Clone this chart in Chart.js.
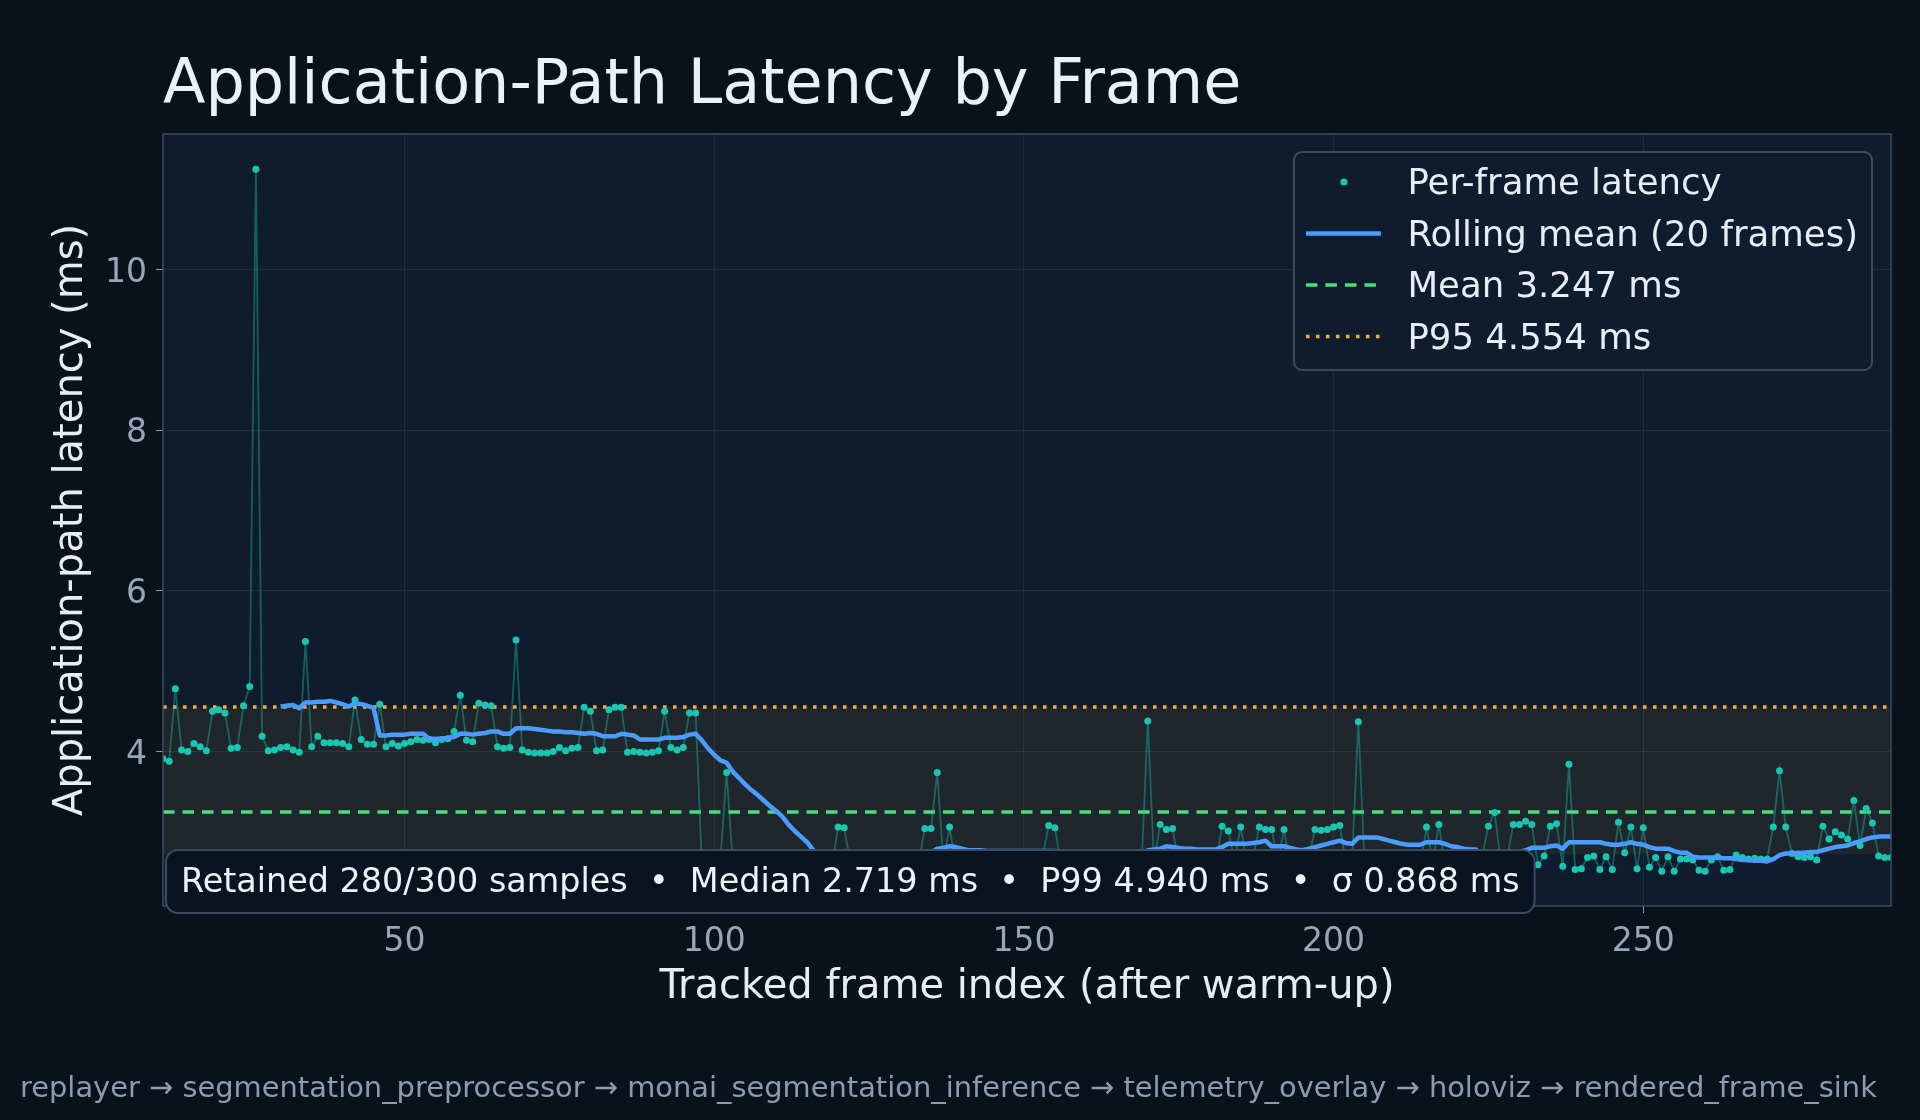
<!DOCTYPE html>
<html>
<head>
<meta charset="utf-8">
<title>Application-Path Latency by Frame</title>
<script src="https://cdn.jsdelivr.net/npm/chart.js@4.4.1/dist/chart.umd.min.js"></script>
<style>
  html, body { margin: 0; padding: 0; background: #09111b; }
  #wrap { width: 1920px; height: 1120px; }
</style>
</head>
<body>
<div id="wrap"><canvas id="latencyChart" width="1920" height="1120"></canvas></div>
<script>
// first retained frame (after warm-up)
const FIRST_FRAME = 11;

// per-frame latency in ms, frames 11..290
const latencyMs = [
  3.91, 3.88, 4.78, 4.02, 4.00, 4.10, 4.06, 4.01, 4.50, 4.52,
  4.48, 4.04, 4.05, 4.57, 4.81, 11.25, 4.19, 4.01, 4.02, 4.05,
  4.06, 4.02, 3.99, 5.37, 4.06, 4.19, 4.11, 4.11, 4.11, 4.10,
  4.06, 4.64, 4.15, 4.09, 4.09, 4.59, 4.06, 4.10, 4.07, 4.10,
  4.12, 4.15, 4.14, 4.15, 4.11, 4.15, 4.16, 4.25, 4.70, 4.14,
  4.12, 4.60, 4.58, 4.57, 4.06, 4.04, 4.05, 5.39, 4.02, 3.99,
  3.98, 3.98, 3.98, 4.00, 4.05, 4.01, 4.04, 4.05, 4.55, 4.50,
  4.01, 4.02, 4.52, 4.55, 4.55, 3.99, 4.00, 3.99, 3.98, 3.99,
  4.01, 4.50, 4.05, 4.02, 4.05, 4.48, 4.48, 2.58, 2.63, 2.55,
  2.66, 3.74, 2.60, 2.67, 2.56, 2.62, 2.69, 2.57, 2.64, 2.60,
  2.68, 2.55, 2.63, 2.66, 2.58, 2.70, 2.61, 2.65, 2.57, 3.06,
  3.05, 2.60, 2.66, 2.58, 2.63, 2.69, 2.56, 2.64, 2.61, 2.67,
  2.57, 2.65, 2.62, 3.04, 3.04, 3.74, 2.63, 3.06, 2.58, 2.66,
  2.61, 2.69, 2.56, 2.64, 2.60, 2.67, 2.58, 2.63, 2.66, 2.57,
  2.65, 2.61, 2.68, 3.08, 3.05, 2.59, 2.64, 2.56, 2.62, 2.67,
  2.58, 2.65, 2.60, 2.55, 2.63, 2.68, 2.59, 2.62, 2.57, 4.38,
  2.64, 3.09, 3.03, 3.04, 2.60, 2.66, 2.57, 2.63, 2.69, 2.58,
  2.62, 3.07, 3.01, 2.65, 3.06, 2.61, 2.67, 3.06, 3.03, 3.03,
  2.64, 3.03, 2.58, 2.66, 2.60, 2.68, 3.03, 3.02, 3.03, 3.06,
  3.08, 2.62, 2.67, 4.37, 2.59, 2.66, 2.61, 2.69, 2.57, 2.64,
  2.70, 2.60, 2.67, 2.56, 3.06, 2.63, 3.09, 2.58, 2.65, 2.61,
  2.68, 2.57, 2.64, 2.70, 3.07, 3.24, 2.62, 2.66, 3.09, 3.09,
  3.13, 3.09, 2.59, 2.70, 3.07, 3.10, 2.57, 3.84, 2.53, 2.54,
  2.68, 2.70, 2.53, 2.69, 2.53, 3.12, 2.74, 3.06, 2.54, 3.05,
  2.56, 2.68, 2.51, 2.69, 2.51, 2.66, 2.66, 2.65, 2.52, 2.51,
  2.65, 2.69, 2.52, 2.53, 2.71, 2.68, 2.66, 2.67, 2.66, 2.66,
  3.06, 3.76, 3.06, 2.73, 2.69, 2.68, 2.69, 2.65, 3.07, 2.91,
  3.00, 2.96, 2.91, 3.39, 2.83, 3.29, 3.11, 2.70, 2.68, 2.68
];

// 20-frame rolling mean in ms, frames 30..290
const ROLLING_START = 30;
const rollingMs = [
  4.56, 4.57, 4.58, 4.54, 4.61, 4.61, 4.62, 4.62, 4.63, 4.61,
  4.59, 4.56, 4.60, 4.59, 4.57, 4.54, 4.20, 4.20, 4.21, 4.21,
  4.21, 4.22, 4.22, 4.22, 4.16, 4.16, 4.16, 4.17, 4.18, 4.22,
  4.22, 4.21, 4.22, 4.23, 4.25, 4.25, 4.22, 4.22, 4.29, 4.29,
  4.29, 4.28, 4.27, 4.26, 4.25, 4.25, 4.24, 4.24, 4.23, 4.22,
  4.23, 4.22, 4.19, 4.19, 4.19, 4.22, 4.21, 4.20, 4.15, 4.15,
  4.15, 4.15, 4.17, 4.17, 4.17, 4.18, 4.21, 4.22, 4.14, 4.04,
  3.96, 3.89, 3.86, 3.75, 3.67, 3.59, 3.52, 3.46, 3.39, 3.32,
  3.26, 3.19, 3.09, 3.01, 2.94, 2.87, 2.77, 2.70, 2.70, 2.70,
  2.73, 2.76, 2.70, 2.70, 2.70, 2.70, 2.70, 2.70, 2.70, 2.71,
  2.71, 2.71, 2.71, 2.72, 2.72, 2.74, 2.79, 2.80, 2.82, 2.81,
  2.79, 2.77, 2.77, 2.77, 2.76, 2.76, 2.76, 2.76, 2.76, 2.76,
  2.76, 2.76, 2.76, 2.76, 2.76, 2.76, 2.71, 2.70, 2.69, 2.69,
  2.70, 2.69, 2.69, 2.68, 2.68, 2.68, 2.68, 2.69, 2.69, 2.69,
  2.77, 2.78, 2.79, 2.82, 2.81, 2.80, 2.79, 2.79, 2.78, 2.78,
  2.78, 2.78, 2.81, 2.85, 2.85, 2.85, 2.85, 2.86, 2.87, 2.89,
  2.82, 2.82, 2.82, 2.80, 2.78, 2.77, 2.79, 2.81, 2.83, 2.85,
  2.87, 2.89, 2.86, 2.85, 2.93, 2.93, 2.93, 2.93, 2.91, 2.89,
  2.87, 2.85, 2.84, 2.84, 2.84, 2.87, 2.87, 2.87, 2.85, 2.82,
  2.81, 2.79, 2.78, 2.78, 2.67, 2.69, 2.71, 2.71, 2.71, 2.73,
  2.75, 2.77, 2.80, 2.80, 2.80, 2.82, 2.83, 2.79, 2.87, 2.87,
  2.87, 2.87, 2.87, 2.87, 2.85, 2.84, 2.84, 2.85, 2.87, 2.85,
  2.84, 2.81, 2.79, 2.79, 2.79, 2.76, 2.74, 2.74, 2.69, 2.68,
  2.68, 2.68, 2.68, 2.67, 2.67, 2.66, 2.65, 2.65, 2.64, 2.64,
  2.63, 2.66, 2.71, 2.73, 2.73, 2.74, 2.74, 2.75, 2.75, 2.77,
  2.79, 2.81, 2.82, 2.83, 2.86, 2.88, 2.91, 2.93, 2.94, 2.94,
  2.94
];

// summary stats printed on the chart
const MEAN_MS = 3.247;
const MEDIAN_MS = 2.719;
const P95_MS = 4.554;
const P99_MS = 4.940;
const SIGMA_MS = 0.868;
const RETAINED = 280;
const TOTAL = 300;

// axis ticks and limits
const xTicks = [50, 100, 150, 200, 250];
const yTicks = [4, 6, 8, 10];
const Y_MIN = 2.076;
const Y_MAX = 11.69;

const pipeline = [
  "replayer", "segmentation_preprocessor", "monai_segmentation_inference",
  "telemetry_overlay", "holoviz", "rendered_frame_sink"
];

const FONT = "'DejaVu Sans', 'Liberation Sans', sans-serif";
const TEAL = "#19c6b1";
const BLUE = "#4a9dff";
const GREEN = "#4ade80";
const ORANGE = "#f4a93a";

// build point lists from the arrays
const framePoints = latencyMs.map((v, i) => ({ x: FIRST_FRAME + i, y: v }));
const rollingPoints = rollingMs.map((v, i) => ({ x: ROLLING_START + i, y: v }));
const xFirst = FIRST_FRAME;
const xLast = FIRST_FRAME + latencyMs.length - 1;

function roundRect(ctx, x, y, w, h, r) {
  ctx.beginPath();
  ctx.moveTo(x + r, y);
  ctx.lineTo(x + w - r, y);
  ctx.arcTo(x + w, y, x + w, y + r, r);
  ctx.lineTo(x + w, y + h - r);
  ctx.arcTo(x + w, y + h, x + w - r, y + h, r);
  ctx.lineTo(x + r, y + h);
  ctx.arcTo(x, y + h, x, y + h - r, r);
  ctx.lineTo(x, y + r);
  ctx.arcTo(x, y, x + r, y, r);
  ctx.closePath();
}

// backgrounds, spines, title, legend, stats box, footer
const decorPlugin = {
  id: "decor",
  beforeDraw(chart) {
    const { ctx, chartArea: a } = chart;
    ctx.save();
    ctx.fillStyle = "#09111b";
    ctx.fillRect(0, 0, chart.width, chart.height);
    ctx.fillStyle = "#0e1c2d";
    ctx.fillRect(a.left, a.top, a.right - a.left, a.bottom - a.top);
    ctx.restore();
  },
  afterDatasetsDraw(chart) {
    const { ctx, chartArea: a } = chart;
    ctx.save();
    ctx.strokeStyle = "#3b4e63";
    ctx.lineWidth = 1.5;
    ctx.strokeRect(a.left, a.top, a.right - a.left, a.bottom - a.top);
    ctx.restore();
  },
  afterDraw(chart) {
    const { ctx, chartArea: a } = chart;
    ctx.save();

    // title
    ctx.fillStyle = "#eaf1f8";
    ctx.font = "62px " + FONT;
    ctx.textAlign = "left";
    ctx.textBaseline = "alphabetic";
    ctx.fillText("Application-Path Latency by Frame", a.left, 103);

    // legend
    const ds = chart.data.datasets;
    const items = [ds[1], ds[0], ds[2], ds[3]];
    ctx.font = "35.5px " + FONT;
    const textW = Math.max(...items.map((d) => ctx.measureText(d.label).width));
    const lw = 113.5 + textW + 14;
    const lh = 218;
    const lx = a.right - 19 - lw;
    const ly = a.top + 18;
    roundRect(ctx, lx, ly, lw, lh, 8);
    ctx.fillStyle = "#0f1c2d";
    ctx.fill();
    ctx.strokeStyle = "#3b4b5f";
    ctx.lineWidth = 2;
    ctx.stroke();

    const rows = [33, 84.5, 136, 187.5];
    items.forEach((d, i) => {
      const cy = ly + rows[i];
      if (d.legendKind === "dot") {
        ctx.beginPath();
        ctx.arc(lx + 50, cy - 3, 3.6, 0, Math.PI * 2);
        ctx.fillStyle = d.pointBackgroundColor;
        ctx.fill();
      } else {
        ctx.beginPath();
        ctx.setLineDash(d.borderDash || []);
        ctx.lineCap = "butt";
        ctx.strokeStyle = d.borderColor;
        ctx.lineWidth = d.borderWidth;
        ctx.moveTo(lx + 12, cy - 3);
        ctx.lineTo(lx + 87, cy - 3);
        ctx.stroke();
        ctx.setLineDash([]);
      }
      ctx.fillStyle = "#e6edf5";
      ctx.textBaseline = "middle";
      ctx.fillText(d.label, lx + 113.5, cy);
    });

    // stats box
    ctx.font = "33.4px " + FONT;
    const stats =
      "Retained " + RETAINED + "/" + TOTAL + " samples  \u2022  Median " +
      MEDIAN_MS.toFixed(3) + " ms  \u2022  P99 " + P99_MS.toFixed(3) +
      " ms  \u2022  \u03c3 " + SIGMA_MS.toFixed(3) + " ms";
    const sw = ctx.measureText(stats).width;
    const bx = a.left + 3;
    const by = a.bottom - 56;
    roundRect(ctx, bx, by, sw + 30, 63, 12);
    ctx.fillStyle = "#0a1420";
    ctx.fill();
    ctx.strokeStyle = "#3b4b5f";
    ctx.lineWidth = 2;
    ctx.stroke();
    ctx.fillStyle = "#eef3f8";
    ctx.textBaseline = "alphabetic";
    ctx.fillText(stats, bx + 15, by + 42);

    // pipeline footer
    ctx.font = "28.9px " + FONT;
    ctx.fillStyle = "#8b9bb0";
    ctx.fillText(pipeline.join(" \u2192 "), 20, 1097);

    ctx.restore();
  }
};

const chart = new Chart(document.getElementById("latencyChart"), {
  type: "line",
  data: {
    datasets: [
      {
        label: "Rolling mean (20 frames)",
        data: rollingPoints,
        borderColor: BLUE,
        borderWidth: 4.5,
        borderJoinStyle: "round",
        pointRadius: 0,
        tension: 0,
        fill: false
      },
      {
        label: "Per-frame latency",
        legendKind: "dot",
        data: framePoints,
        showLine: true,
        borderColor: "rgba(25,198,177,0.4)",
        borderWidth: 1.8,
        pointRadius: 3.5,
        pointBorderWidth: 0,
        pointBackgroundColor: TEAL,
        tension: 0,
        fill: false
      },
      {
        label: "Mean " + MEAN_MS.toFixed(3) + " ms",
        data: [{ x: xFirst, y: MEAN_MS }, { x: xLast, y: MEAN_MS }],
        borderColor: GREEN,
        borderWidth: 3.5,
        borderDash: [11.5, 8],
        pointRadius: 0,
        fill: false
      },
      {
        label: "P95 " + P95_MS.toFixed(3) + " ms",
        data: [{ x: xFirst, y: P95_MS }, { x: xLast, y: P95_MS }],
        borderColor: ORANGE,
        borderWidth: 3.6,
        borderDash: [3.6, 6.4],
        pointRadius: 0,
        // shaded band between median and P95
        fill: { value: MEDIAN_MS },
        backgroundColor: "rgba(245,166,35,0.08)"
      }
    ]
  },
  options: {
    responsive: false,
    devicePixelRatio: 1,
    animation: false,
    layout: { padding: { top: 134, right: 29, bottom: 0, left: 0 } },
    plugins: {
      legend: { display: false },
      tooltip: { enabled: false },
      title: { display: false }
    },
    scales: {
      x: {
        type: "linear",
        min: xFirst,
        max: xLast,
        afterBuildTicks: (s) => { s.ticks = xTicks.map((v) => ({ value: v })); },
        afterFit: (s) => { s.height = 214; },
        ticks: {
          color: "#97a6b8",
          font: { family: FONT, size: 33 },
          padding: 10,
          maxRotation: 0
        },
        grid: {
          color: "rgba(148,163,184,0.12)",
          lineWidth: 1,
          drawTicks: true,
          tickLength: 7,
          tickColor: "#8797a8"
        },
        border: { display: false },
        title: {
          display: true,
          text: "Tracked frame index (after warm-up)",
          color: "#e6edf5",
          font: { family: FONT, size: 40 },
          padding: { top: 0, bottom: 108 }
        }
      },
      y: {
        type: "linear",
        min: Y_MIN,
        max: Y_MAX,
        afterBuildTicks: (s) => { s.ticks = yTicks.map((v) => ({ value: v })); },
        afterFit: (s) => { s.width = 163; },
        ticks: {
          color: "#97a6b8",
          font: { family: FONT, size: 33 },
          padding: 9,
          labelOffset: 3.5
        },
        grid: {
          color: "rgba(148,163,184,0.12)",
          lineWidth: 1,
          drawTicks: true,
          tickLength: 7,
          tickColor: "#8797a8"
        },
        border: { display: false },
        title: {
          display: true,
          text: "Application-path latency (ms)",
          color: "#e6edf5",
          font: { family: FONT, size: 40 },
          padding: { top: 48, bottom: 0 }
        }
      }
    }
  },
  plugins: [decorPlugin]
});
</script>
</body>
</html>
